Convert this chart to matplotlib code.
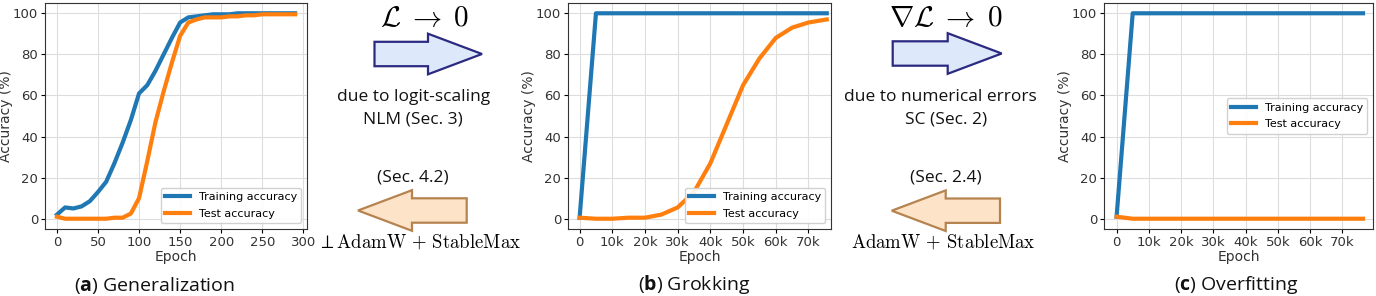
import matplotlib
matplotlib.use("Agg")
import matplotlib.pyplot as plt
from matplotlib.patches import Polygon
from matplotlib.ticker import FuncFormatter

# (a) Generalization
gen_epochs = [0, 10, 20, 30, 40, 50, 60, 70, 80, 90, 100, 110, 120, 130, 140,
              150, 160, 170, 180, 190, 200, 210, 220, 230, 240, 250, 260, 270, 280, 290]
gen_train = [2, 5.5, 5, 6, 8.5, 13, 18, 27, 37, 48, 61, 65, 72, 80, 88,
             95.5, 98, 98.5, 99, 99.5, 99.5, 99.5, 100, 100, 100, 100, 100, 100, 100, 100]
gen_test = [1, 0, 0, 0, 0, 0, 0, 0.5, 0.5, 2.5, 10, 28, 47, 62, 76,
            89, 95.5, 97, 98, 98, 98, 98.5, 98.5, 99, 99, 99.5, 99.5, 99.5, 99.5, 99.5]

# (b) Grokking
grok_epochs = [0, 5000, 10000, 15000, 20000, 25000, 30000, 35000, 40000,
               45000, 50000, 55000, 60000, 65000, 70000, 75600]
grok_train = [0.5, 100, 100, 100, 100, 100, 100, 100, 100,
              100, 100, 100, 100, 100, 100, 100]
grok_test = [0.5, 0, 0, 0.5, 0.5, 2, 5.5, 13, 27, 46, 65, 78, 88, 93, 95.5, 97]

# (c) Overfitting
over_epochs = [0, 5000, 76400]
over_train = [1, 100, 100]
over_test = [1, 0, 0]

captions = ["a", "b", "c"]
caption_names = ["Generalization", "Grokking", "Overfitting"]

plt.rcParams['font.family'] = 'DejaVu Sans'
plt.rcParams['mathtext.fontset'] = 'custom'
plt.rcParams['mathtext.rm'] = 'Open Sans'
plt.rcParams['mathtext.bf'] = 'Open Sans:bold'

fig = plt.figure(figsize=(13.76, 2.96), dpi=100)
W, H = 1376, 296

def px_axes(left, right, top, bottom):
    return fig.add_axes([left / W, 1 - bottom / H, (right - left) / W, (bottom - top) / H])

ax_a = px_axes(45, 307, 3, 229)
ax_b = px_axes(568, 831, 3, 229)
ax_c = px_axes(1104, 1373, 3, 229)

panels = [
    (ax_a, gen_epochs, gen_train, gen_test, 'lower right'),
    (ax_b, grok_epochs, grok_train, grok_test, 'lower right'),
    (ax_c, over_epochs, over_train, over_test, 'center right'),
]

for ax, ep, tr, te, loc in panels:
    ax.plot(ep, tr, color='#1f77b4', lw=3, label='Training accuracy')
    ax.plot(ep, te, color='#ff7f0e', lw=3, label='Test accuracy')
    ax.set_xlabel('Epoch', fontsize=10, labelpad=1, color='#333333')
    ax.set_ylabel('Accuracy (%)', fontsize=10, labelpad=0, color='#333333')
    ax.set_yticks([0, 20, 40, 60, 80, 100])
    ax.set_ylim(-5, 105)
    ax.tick_params(labelsize=9.5, length=3, pad=2, labelcolor='#333333')
    ax.grid(True, color='#dddddd', lw=0.8)
    for s in ax.spines.values():
        s.set_color('#333333')
    ax.legend(loc=loc, fontsize=8, handlelength=2.2, labelspacing=0.6, framealpha=0.9)

ax_a.set_xticks([0, 50, 100, 150, 200, 250, 300])
ax_a.set_xlim(-14.5, 304.5)
kfmt = FuncFormatter(lambda v, p: '0' if v == 0 else '%dk' % (v / 1000))
for ax in (ax_b, ax_c):
    ax.set_xticks([0, 10000, 20000, 30000, 40000, 50000, 60000, 70000])
    ax.xaxis.set_major_formatter(kfmt)
ax_b.set_xlim(-3550, 76900)
ax_c.set_xlim(-3900, 79500)

# overlay in pixel coordinates for arrows and text
ov = fig.add_axes([0, 0, 1, 1], zorder=-1)
ov.set_xlim(0, W)
ov.set_ylim(H, 0)
ov.axis('off')

def arrow(tail, tip, y, face, edge, body=12.2, head=20.3, head_len=54):
    d = 1 if tip > tail else -1
    base = tip - d * head_len
    pts = [(tail, y - body), (base, y - body), (base, y - head), (tip, y),
           (base, y + head), (base, y + body), (tail, y + body)]
    ov.add_patch(Polygon(pts, closed=True, facecolor=face, edgecolor=edge, lw=1.6))

blue_face, blue_edge = '#dde8fa', '#2b2a80'
org_face, org_edge = '#fde3c8', '#b5834f'
arrow(374.5, 482, 54, blue_face, blue_edge)
arrow(466.7, 358, 210.5, org_face, org_edge)
arrow(892.7, 1001.7, 53.5, blue_face, blue_edge)
arrow(1000, 891.7, 210.7, org_face, org_edge)

sans = 'Open Sans'
mid = dict(ha='center', va='center', fontsize=12.5, family=sans, color='#111111')
ov.text(425, 18, r'$\mathcal{L} \;\to\; 0$', ha='center', va='center', fontsize=21, math_fontfamily='cm')
ov.text(414, 97, 'due to logit-scaling', **mid)
ov.text(413, 120, 'NLM (Sec. 3)', **mid)
ov.text(413, 177, '(Sec. 4.2)', **mid)
ov.text(419, 242, r'$\perp\mathrm{AdamW} \,+\, \mathrm{StableMax}$', ha='center', va='center',
        fontsize=13.5, math_fontfamily='cm')

ov.text(946, 18, r'$\nabla\mathcal{L} \;\to\; 0$', ha='center', va='center', fontsize=21, math_fontfamily='cm')
ov.text(940, 97, 'due to numerical errors', **mid)
ov.text(946, 120, 'SC (Sec. 2)', **mid)
ov.text(946, 177, '(Sec. 2.4)', **mid)
ov.text(943, 242, r'$\mathrm{AdamW} \,+\, \mathrm{StableMax}$', ha='center', va='center',
        fontsize=13.5, math_fontfamily='cm')

for cx, letter, name in zip([154, 694, 1236], captions, caption_names):
    ov.text(cx, 285, r'($\mathbf{%s}$) %s' % (letter, name), ha='center', va='center',
            fontsize=14, family=sans, color='#111111')

fig.savefig('out.png', dpi=100)
